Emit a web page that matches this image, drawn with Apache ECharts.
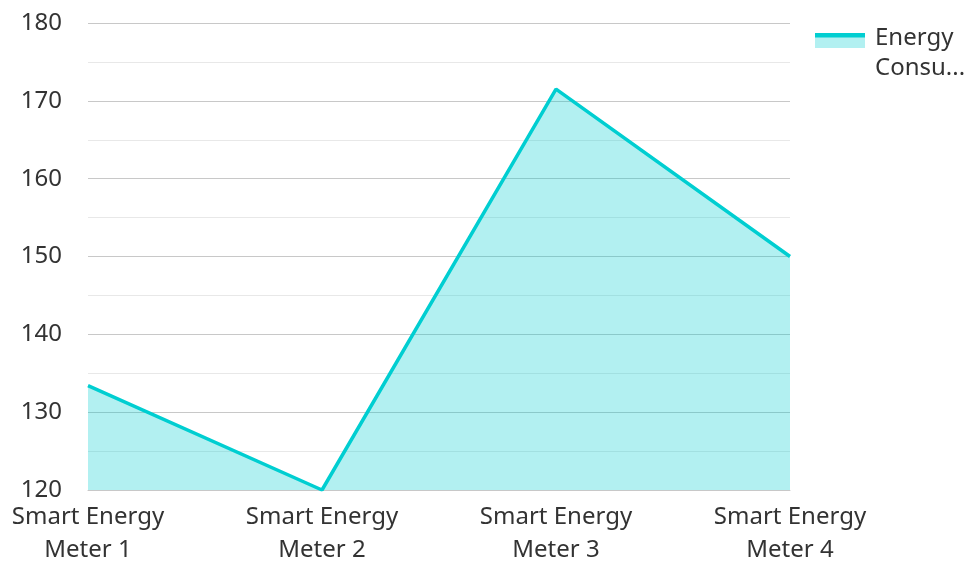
<!DOCTYPE html>
<html>
<head>
<meta charset="utf-8">
<script src="https://cdn.jsdelivr.net/npm/echarts@6/dist/echarts.min.js"></script>
<style>
  html, body { margin: 0; padding: 0; background: #fff; }
  #chart { width: 969px; height: 562px; }
</style>
</head>
<body>
<div id="chart"></div>
<script>
// Meters and their readings
const categories = ['Smart Energy Meter 1', 'Smart Energy Meter 2', 'Smart Energy Meter 3', 'Smart Energy Meter 4'];
const seriesName = 'Energy Consumption';
const consumption = [133.4, 120, 171.5, 150];
const yTicks = { min: 120, max: 180, interval: 10 };

const FONT = '"Noto Sans", "Open Sans", sans-serif';
const LINE_COLOR = '#00CED1';
const AREA_OPACITY = 0.3;

// Legend swatch: a filled block with a solid stroke along its top edge.
// The lower part of the image is left empty so the label sits below the swatch's centre.
const swatchSvg =
  '<svg xmlns="http://www.w3.org/2000/svg" width="55" height="40" viewBox="0 0 55 40">' +
  '<rect x="0" y="0" width="50" height="15" fill="' + LINE_COLOR + '" fill-opacity="' + AREA_OPACITY + '"/>' +
  '<rect x="0" y="0" width="50" height="4.5" fill="' + LINE_COLOR + '"/>' +
  '</svg>';
const swatchIcon = 'image://data:image/svg+xml;charset=utf-8,' + encodeURIComponent(swatchSvg);

const chart = echarts.init(document.getElementById('chart'), null, { renderer: 'canvas' });

chart.setOption({
  animation: false,
  textStyle: { fontFamily: FONT },
  grid: { left: 88, right: 179, top: 23, bottom: 72, containLabel: false, outerBoundsMode: 'none' },
  legend: {
    orient: 'vertical',
    left: 815,
    top: 22.5,
    padding: 0,
    itemWidth: 55,
    itemHeight: 40,
    selectedMode: false,
    icon: swatchIcon,
    formatter: name => name.replace(' ', '\n'),
    textStyle: {
      fontFamily: FONT,
      fontSize: 24,
      color: '#333',
      lineHeight: 30.5,
      width: 100,
      overflow: 'truncate',
      ellipsis: '...'
    },
    data: [seriesName]
  },
  xAxis: {
    type: 'category',
    data: categories,
    boundaryGap: false,
    axisLine: { show: true, lineStyle: { color: '#c8c8c8' } },
    axisTick: { show: false },
    axisLabel: {
      color: '#333',
      fontSize: 24,
      lineHeight: 33,
      margin: 11,
      formatter: v => v.replace(' Meter', '\nMeter')
    }
  },
  yAxis: {
    type: 'value',
    min: yTicks.min,
    max: yTicks.max,
    interval: yTicks.interval,
    axisLine: { show: false },
    axisTick: { show: false },
    axisLabel: { color: '#333', fontSize: 24, margin: 26 },
    splitLine: { show: true, lineStyle: { color: '#c8c8c8', width: 1 } },
    minorTick: { show: false, splitNumber: 2 },
    minorSplitLine: { show: true, lineStyle: { color: '#e8e8e8', width: 1 } }
  },
  series: [{
    name: seriesName,
    type: 'line',
    data: consumption,
    symbol: 'none',
    lineStyle: { color: LINE_COLOR, width: 3.5 },
    itemStyle: { color: LINE_COLOR },
    areaStyle: { color: LINE_COLOR, opacity: AREA_OPACITY },
    z: 2
  }]
});
</script>
</body>
</html>
